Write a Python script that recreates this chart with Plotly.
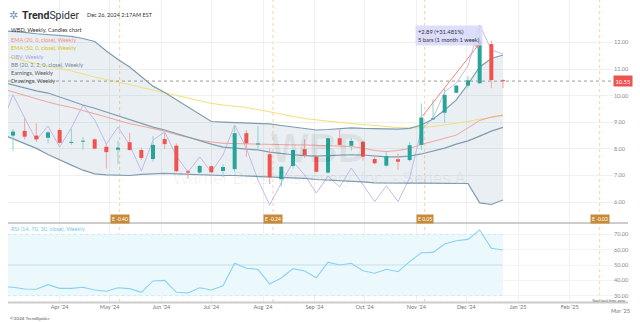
import plotly.graph_objects as go
import pandas as pd

# ---------------- DATA ----------------
weeks = [d.strftime('%Y-%m-%d') for d in pd.date_range('2024-03-04', periods=43, freq='7D')]
ind_weeks = [d.strftime('%Y-%m-%d') for d in pd.date_range('2024-02-26', periods=44, freq='7D')]

opens = [8.50, 8.68, 8.50, 8.42, 8.71, 8.23, 8.27, 8.36, 8.08, 7.97,
         8.25, 7.96, 7.62, 8.37, 8.12, 7.16, 7.11, 7.35, 7.17, 7.24,
         8.59, 8.17, 7.80, 6.86, 7.36, 7.99, 7.71, 7.11, 8.40, 8.12,
         8.27, 7.62, 7.37, 7.61, 7.58, 8.15, 9.11, 9.36, 10.11, 10.38,
         10.47, 11.94, 10.58]
highs = [8.75, 9.17, 8.96, 8.68, 8.77, 8.75, 8.44, 8.40, 8.21, 8.31,
         8.61, 8.05, 8.49, 8.61, 8.21, 7.21, 7.39, 7.38, 7.43, 8.86,
         8.71, 8.86, 8.02, 7.36, 7.98, 8.36, 7.77, 8.42, 8.75, 8.40,
         8.31, 7.73, 7.93, 7.83, 8.27, 9.71, 9.86, 10.28, 10.40, 10.74,
         12.55, 12.07, 10.62]
lows = [7.92, 8.36, 8.27, 8.21, 8.21, 8.15, 7.98, 7.98, 7.26, 7.43,
        7.93, 7.58, 7.52, 8.00, 7.13, 6.87, 7.02, 7.08, 6.93, 7.14,
        7.70, 8.02, 6.68, 6.58, 7.27, 7.65, 7.11, 7.06, 8.11, 7.93,
        7.56, 7.42, 7.33, 7.21, 7.52, 7.96, 9.09, 8.99, 10.09, 10.28,
        10.44, 10.28, 10.28]
closes = [8.65, 8.46, 8.36, 8.62, 8.23, 8.26, 8.31, 8.01, 7.88, 8.05,
          7.96, 7.66, 8.15, 8.18, 7.16, 7.11, 7.36, 7.12, 7.32, 8.59,
          8.21, 8.20, 6.93, 7.33, 7.96, 7.76, 7.14, 8.40, 8.15, 8.30,
          7.71, 7.46, 7.73, 7.52, 8.14, 9.18, 9.15, 10.03, 10.38, 10.58,
          12.07, 10.59, 10.55]

# indicators (first value is the week before the first visible candle)
bb_upper = [12.45, 12.42, 12.38, 12.33, 12.29, 12.26, 12.23, 12.15, 12.04, 11.68,
            11.36, 11.08, 10.72, 10.36, 10.12, 9.84, 9.57, 9.29, 9.03, 9.01,
            8.99, 8.97, 8.95, 8.94, 8.88, 8.82, 8.77, 8.71, 8.73, 8.77,
            8.79, 8.77, 8.75, 8.75, 8.74, 8.77, 8.90, 9.12, 9.46, 9.84,
            10.44, 11.08, 11.40, 11.53]
bb_mid = [10.52, 10.40, 10.29, 10.18, 10.10, 9.95, 9.82, 9.65, 9.53, 9.39,
          9.24, 9.09, 8.95, 8.82, 8.71, 8.58, 8.45, 8.30, 8.18, 8.07,
          8.03, 8.01, 7.96, 7.88, 7.82, 7.78, 7.75, 7.73, 7.75, 7.77,
          7.78, 7.77, 7.73, 7.70, 7.70, 7.73, 7.81, 7.92, 8.03, 8.18,
          8.30, 8.48, 8.67, 8.81]
bb_lower = [8.56, 8.37, 8.18, 8.02, 7.79, 7.58, 7.39, 7.20, 7.06, 7.02,
            7.00, 7.00, 7.04, 7.06, 7.08, 7.06, 7.04, 7.04, 7.02, 7.00,
            7.00, 6.98, 6.98, 6.96, 6.93, 6.91, 6.89, 6.85, 6.83, 6.81,
            6.77, 6.76, 6.72, 6.71, 6.71, 6.71, 6.71, 6.71, 6.71, 6.71,
            6.70, 5.97, 5.91, 6.08]
ema20 = [10.27, 10.14, 10.01, 9.88, 9.76, 9.65, 9.56, 9.44, 9.33, 9.20,
         9.07, 8.95, 8.86, 8.77, 8.67, 8.54, 8.43, 8.33, 8.26, 8.21,
         8.20, 8.18, 8.18, 8.17, 8.15, 8.15, 8.15, 8.13, 8.13, 8.11,
         8.09, 8.03, 7.94, 7.90, 7.94, 8.02, 8.17, 8.28, 8.41, 8.52,
         8.79, 9.07, 9.20, 9.27]
ema50 = [11.48, 11.42, 11.30, 11.21, 11.12, 11.02, 10.93, 10.82, 10.70, 10.61,
         10.52, 10.42, 10.31, 10.21, 10.12, 10.03, 9.93, 9.82, 9.71, 9.65,
         9.61, 9.56, 9.48, 9.39, 9.29, 9.22, 9.14, 9.09, 9.03, 8.99,
         8.95, 8.92, 8.88, 8.84, 8.80, 8.79, 8.80, 8.84, 8.90, 8.95,
         9.03, 9.12, 9.18, 9.24]
obv_scaled = [8.90, 10.03, 9.16, 8.33, 8.86, 8.07, 8.79, 9.65, 9.09, 8.18,
              8.82, 8.15, 7.17, 8.33, 8.64, 7.73, 7.13, 7.70, 7.13, 7.77,
              8.90, 8.03, 6.83, 5.89, 6.72, 7.51, 7.02, 6.34, 6.98, 6.57,
              7.28, 6.64, 6.02, 6.61, 6.02, 6.91, 8.71, 9.16, 10.14, 10.48,
              11.12, 12.66, 11.72, 11.57]
rsi = [35.8, 35.5, 34.4, 34.2, 37.2, 34.8, 34.8, 35.5, 33.7, 32.9,
       35.2, 34.6, 32.2, 39.6, 40.0, 32.2, 31.8, 35.2, 33.7, 36.5,
       51.1, 47.9, 47.2, 37.6, 41.5, 47.6, 46.1, 41.7, 51.8, 50.0,
       51.1, 46.3, 44.6, 47.2, 45.6, 52.2, 58.0, 58.2, 63.7, 65.8,
       66.7, 72.8, 60.9, 59.8]

earn_dates = ['2024-05-07', '2024-08-07', '2024-11-06', '2025-02-19']
earn_labels = ['E -0.40', 'E -0.24', 'E 0.05', 'E -0.03']

month_ticks = ['2024-04-01', '2024-05-01', '2024-06-01', '2024-07-01', '2024-08-01',
               '2024-09-01', '2024-10-01', '2024-11-01', '2024-12-01', '2025-01-01',
               '2025-02-01']
month_labels = ["Apr '24", "May '24", "Jun '24", "Jul '24", "Aug '24", "Sep '24",
                "Oct '24", "Nov '24", "Dec '24", "Jan '25", "Feb '25"]
extra_tick_label = "Mar '25"
price_ticks = [6, 7, 8, 9, 10, 11, 12]
rsi_ticks = [30, 40, 50, 60, 70]
last_price = 10.55
move_from, move_to = 35, 40

# ---------------- STYLE ----------------
UP, DOWN = '#26a69a', '#ef5350'
UP_W, DOWN_W = '#8fd3ca', '#f3a3a1'
BB_C = '#7f9cb1'
L, R, T, B, W, H = 8, 27, 0, 20, 640, 322
PW, PH = W - L - R, H - T - B


def px(xp):
    return (xp - L) / PW


def py(yp):
    return 1 - (yp - T) / PH


fig = go.Figure()

# Bollinger fill
fig.add_trace(go.Scatter(x=ind_weeks, y=bb_lower, mode='lines', line=dict(width=0),
                         hoverinfo='skip', showlegend=False))
fig.add_trace(go.Scatter(x=ind_weeks, y=bb_upper, mode='lines', line=dict(width=0),
                         fill='tonexty', fillcolor='rgba(125,155,180,0.16)',
                         hoverinfo='skip', showlegend=False))

# indicator lines
fig.add_trace(go.Scatter(x=ind_weeks, y=ema50, mode='lines',
                         line=dict(color='#f2e07a', width=1), showlegend=False))
fig.add_trace(go.Scatter(x=ind_weeks, y=ema20, mode='lines',
                         line=dict(color='#f0a49c', width=1), showlegend=False))
fig.add_trace(go.Scatter(x=ind_weeks, y=obv_scaled, mode='lines',
                         line=dict(color='#bcb3e6', width=0.9), showlegend=False))
for band in (bb_upper, bb_mid, bb_lower):
    fig.add_trace(go.Scatter(x=ind_weeks, y=band, mode='lines',
                             line=dict(color=BB_C, width=1.2), showlegend=False))

# candles
wick = {True: ([], []), False: ([], [])}
body = {True: ([], []), False: ([], [])}
for d, o, h, l, c in zip(weeks, opens, highs, lows, closes):
    up = c >= o
    wick[up][0].extend([d, d, None])
    wick[up][1].extend([l, h, None])
    lo_b, hi_b = min(o, c), max(o, c)
    if hi_b - lo_b < 0.04:
        mid = (hi_b + lo_b) / 2
        lo_b, hi_b = mid - 0.02, mid + 0.02
    body[up][0].extend([d, d, None])
    body[up][1].extend([lo_b, hi_b, None])
for up, col in ((True, UP_W), (False, DOWN_W)):
    fig.add_trace(go.Scatter(x=wick[up][0], y=wick[up][1], mode='lines',
                             line=dict(color=col, width=1), showlegend=False))
for up, col in ((True, UP), (False, DOWN)):
    fig.add_trace(go.Scatter(x=body[up][0], y=body[up][1], mode='lines',
                             line=dict(color=col, width=4), showlegend=False))

# RSI panel
fig.add_trace(go.Scatter(x=ind_weeks, y=[30] * len(ind_weeks), mode='lines',
                         line=dict(color='#c6e8f4', width=1, dash='dot'),
                         xaxis='x', yaxis='y2', showlegend=False))
fig.add_trace(go.Scatter(x=ind_weeks, y=[70] * len(ind_weeks), mode='lines',
                         line=dict(color='#c6e8f4', width=1, dash='dot'),
                         fill='tonexty', fillcolor='#ebf8fc',
                         xaxis='x', yaxis='y2', showlegend=False))
fig.add_trace(go.Scatter(x=ind_weeks, y=[50] * len(ind_weeks), mode='lines',
                         line=dict(color='#c9ddef', width=1),
                         xaxis='x', yaxis='y2', showlegend=False))
fig.add_trace(go.Scatter(x=ind_weeks, y=rsi, mode='lines',
                         line=dict(color='#86d2f4', width=1.1),
                         xaxis='x', yaxis='y2', showlegend=False))

shapes = []
for d in earn_dates:
    shapes.append(dict(type='line', xref='x', yref='paper', x0=d, x1=d, y0=0, y1=1,
                       line=dict(color='#f6d2a8', width=1, dash='dot'), layer='below'))
shapes.append(dict(type='line', xref='paper', yref='y', x0=0, x1=1,
                   y0=last_price, y1=last_price,
                   line=dict(color='#9a9a9a', width=1, dash='dot')))
shapes.append(dict(type='line', xref='paper', yref='paper', x0=0, x1=px(628),
                   y0=py(223), y1=py(223), line=dict(color='#cccccc', width=2)))
shapes.append(dict(type='line', xref='paper', yref='paper', x0=0, x1=px(628),
                   y0=py(302.5), y1=py(302.5), line=dict(color='#cccccc', width=2)))

ann = []
FONT = 'Lato, Roboto, Arial, sans-serif'
# header
ann.append(dict(xref='paper', yref='paper', x=px(7), y=py(15), xanchor='left', yanchor='middle',
                text='✲', showarrow=False, font=dict(size=11, color='#6d93b8', family='DejaVu Sans')))
ann.append(dict(xref='paper', yref='paper', x=px(20), y=py(15), xanchor='left', yanchor='middle',
                text='<b>Trend</b>Spider', showarrow=False,
                font=dict(size=10.5, color='#2b2f38', family='Roboto, Arial')))
ann.append(dict(xref='paper', yref='paper', x=px(85), y=py(15), xanchor='left', yanchor='middle',
                text='Dec 26, 2024 2:17AM EST', showarrow=False,
                font=dict(size=5.5, color='#333', family=FONT)))
legend_items = [('WBD, Weekly, Candles chart', '#333333', 29),
                ('EMA (20, 0, close), Weekly', '#ee8f86', 39.3),
                ('EMA (50, 0, close), Weekly', '#d9c41e', 47.7),
                ('OBV, Weekly', '#aaa2dd', 56),
                ('BB (20, 2, 2, 0, close), Weekly', '#6e8ca2', 64.3),
                ('Earnings, Weekly', '#555555', 72.7),
                ('Drawings, Weekly', '#555555', 81)]
for txt, col, yy in legend_items:
    ann.append(dict(xref='paper', yref='paper', x=px(9), y=py(yy), xanchor='left', yanchor='middle',
                    text=txt, showarrow=False, font=dict(size=5.6, color=col, family=FONT)))
ann.append(dict(xref='paper', yref='paper', x=px(9), y=py(228.5), xanchor='left', yanchor='middle',
                text='RSI (14, 70, 30, close), Weekly', showarrow=False,
                font=dict(size=5.6, color='#79c7ec', family=FONT)))
# watermark
ann.append(dict(xref='paper', yref='paper', x=px(319), y=py(148), xanchor='center', yanchor='middle',
                text='<b>WBD</b>', showarrow=False,
                font=dict(size=40, color='rgba(0,0,0,0.06)', family='Arial')))
ann.append(dict(xref='paper', yref='paper', x=px(320), y=py(178), xanchor='center', yanchor='middle',
                text='Warner Bros. Discovery, Inc. - Series A', showarrow=False,
                font=dict(size=17, color='rgba(0,0,0,0.06)', family='Arial')))
# earnings labels
for d, t in zip(earn_dates, earn_labels):
    ann.append(dict(xref='x', yref='paper', x=d, y=py(219), xanchor='center', yanchor='middle',
                    text=t, showarrow=False, bgcolor='#c98a38', borderpad=1,
                    font=dict(size=5, color='white', family=FONT)))
# price label
ann.append(dict(xref='paper', yref='y', x=1.0, y=last_price, xanchor='left', yanchor='middle',
                text=f'{last_price:.2f}', showarrow=False, bgcolor='#ef5350', borderpad=1.5,
                font=dict(size=5.8, color='white', family=FONT)))
# measurement drawing
chg = closes[move_to] - closes[move_from]
pct = chg / closes[move_from] * 100
ann.append(dict(xref='x', yref='y', x=weeks[move_to], y=closes[move_to] - 0.1,
                axref='x', ayref='y', ax=weeks[move_from], ay=closes[move_from],
                text='', showarrow=True, arrowhead=2, arrowsize=1, arrowwidth=1,
                arrowcolor='#f0857c', standoff=0))
ann.append(dict(xref='x', yref='y', x='2024-10-31', y=12.66, xanchor='left', yanchor='top',
                align='left', text=f'+{chg:.2f} (+{pct:.3f}%)<br>5 bars (1 month 1 week)',
                showarrow=False, bgcolor='rgba(215,215,252,0.85)', borderpad=2,
                font=dict(size=5.8, color='#333', family=FONT)))
# axis extras
ann.append(dict(xref='paper', yref='paper', x=px(620), y=py(305), xanchor='center', yanchor='top',
                text=extra_tick_label, showarrow=False, font=dict(size=5.6, color='#777', family=FONT)))
ann.append(dict(xref='paper', yref='paper', x=px(628), y=py(300.6), xanchor='right', yanchor='middle',
                text='Your local time zone', showarrow=False,
                font=dict(size=3.8, color='#666', family=FONT)))
ann.append(dict(xref='paper', yref='paper', x=px(8), y=py(318), xanchor='left', yanchor='middle',
                text='©2024 TrendSpider', showarrow=False,
                font=dict(size=4.6, color='#555', family=FONT)))

main_y0 = 5.252
main_y1 = 13.598
fig.update_layout(
    width=W, height=H, margin=dict(l=L, r=R, t=T, b=B),
    paper_bgcolor='white', plot_bgcolor='white', showlegend=False,
    xaxis=dict(domain=[0, 1], range=['2024-03-01', '2025-02-27'], anchor='y2',
               tickvals=month_ticks, ticktext=month_labels, showgrid=True,
               gridcolor='#f0f0f0', gridwidth=1, zeroline=False, showline=False, ticks='',
               tickfont=dict(size=5.6, color='#777', family=FONT)),
    yaxis=dict(domain=[py(222), 1], range=[main_y0, main_y1], side='right', anchor='x',
               tickvals=price_ticks, ticktext=[f'{v:.2f}' for v in price_ticks],
               showgrid=True, gridcolor='#f0f0f0', zeroline=False, ticks='',
               tickfont=dict(size=5.6, color='#888', family=FONT)),
    yaxis2=dict(domain=[0, py(224)], range=[25.9, 76.71], side='right', anchor='x',
                tickvals=rsi_ticks, ticktext=[f'{v:.2f}' for v in rsi_ticks],
                showgrid=True, gridcolor='#f3f3f3', zeroline=False, ticks='',
                tickfont=dict(size=5.6, color='#888', family=FONT)),
    shapes=shapes, annotations=ann,
)

fig.write_html('out.html')
